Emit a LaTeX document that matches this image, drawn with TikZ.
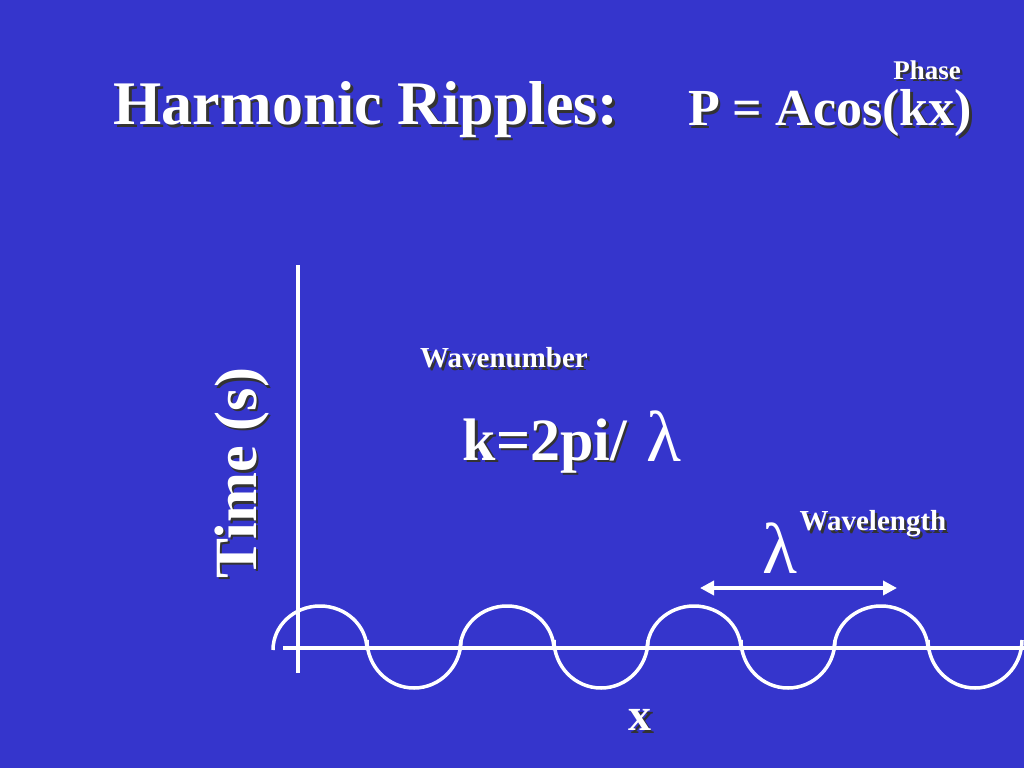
\documentclass[tikz,border=0pt]{standalone}
\usepackage{fontspec}
\setmainfont{Liberation Serif}
\usetikzlibrary{arrows.meta}
\definecolor{bg}{HTML}{3535CC}
\newcommand{\shtext}[4][]{%
  \node[text=black!80,#1] at ([shift={(2.5,2.5)}]#2) {#4};
  \node[text=white,#1] (#3) at (#2) {#4};}
\begin{document}
\begin{tikzpicture}[x=1pt,y=-1pt,
  wave/.style={white,line width=3.5pt},
  lbl/.style={font=\bfseries,inner sep=0pt}]
\fill[bg] (0,0) rectangle (1024,768);
\useasboundingbox (0,0) rectangle (1024,768);
\shtext[lbl,font=\fontsize{62}{66}\selectfont\bfseries]{366,110}{title}{Harmonic Ripples:}
\shtext[lbl,font=\fontsize{52}{56}\selectfont\bfseries]{830,113}{eq}{P = Acos(kx)}
\shtext[lbl,font=\fontsize{27}{30}\selectfont\bfseries]{927,70}{phase}{Phase}
\shtext[lbl,font=\fontsize{29}{31}\selectfont\bfseries]{504,358}{wn}{Wavenumber}
\shtext[lbl,font=\fontsize{60}{64}\selectfont\bfseries]{545,446}{k}{k=2pi/}
\shtext[lbl,font=\fontsize{29}{31}\selectfont\bfseries]{873,524}{wl}{Wavelength}
\shtext[lbl,font=\fontsize{60}{64}\selectfont\bfseries,rotate=90]{242,473}{time}{Time (s)}
\shtext[lbl,font=\fontsize{46}{50}\selectfont\bfseries]{640,720}{xl}{x}
\node[text=white,inner sep=0pt,font=\fontsize{72}{74}\selectfont] (lam1) at (664,436) {λ};
\node[text=white,inner sep=0pt,font=\fontsize{72}{74}\selectfont] (lam2) at (780,548) {λ};
% axes
\coordinate (va) at (298,265); \coordinate (vb) at (298,673);
\coordinate (ha) at (283,648); \coordinate (hb) at (1024,648);
\draw[white,line width=4pt] (va) -- (vb);
\draw[white,line width=4pt] (ha) -- (hb);
% wave
\foreach \c in {320,507,694,881}{
  \draw[wave] (\c-47,650) arc[start angle=180,end angle=360,x radius=47,y radius=44];
  \draw[wave] (\c+47,640) arc[start angle=180,end angle=0,x radius=47,y radius=48];
}
% arrow
\coordinate (aa) at (700,588); \coordinate (ab) at (897,588);
\draw[white,line width=3.5pt,{Triangle[length=14pt,width=14pt]}-{Triangle[length=14pt,width=14pt]}] (aa) -- (ab);
\end{tikzpicture}
\end{document}
